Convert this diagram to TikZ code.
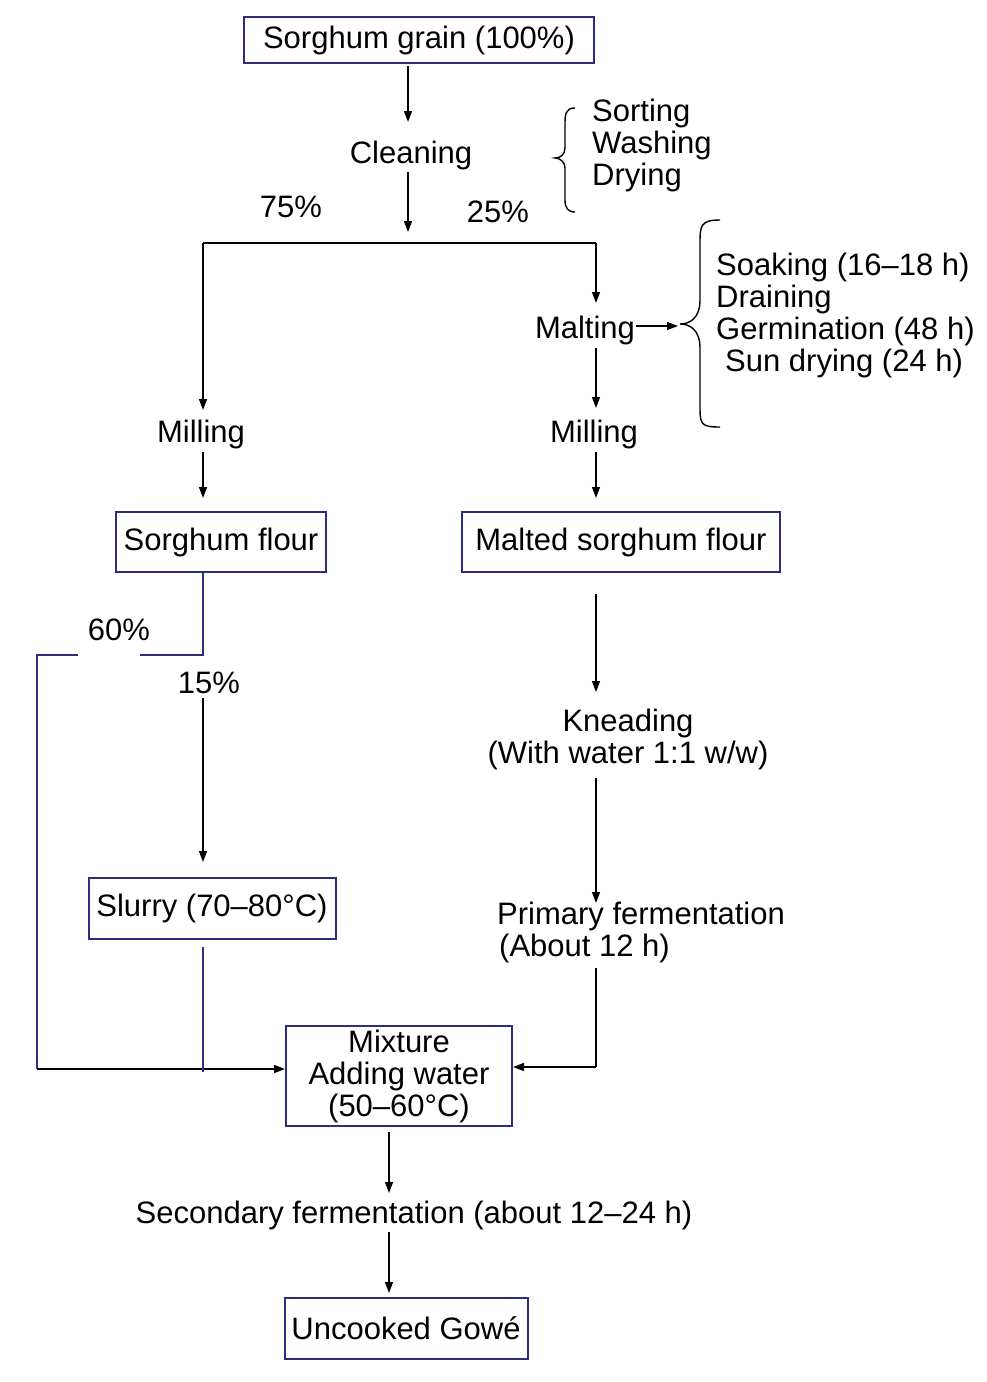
\documentclass[tikz,border=0pt]{standalone}
\usepackage{fontspec}
\setmainfont{Liberation Sans}
\usetikzlibrary{arrows.meta,decorations.pathreplacing}
\definecolor{navy}{HTML}{2E2E80}
\begin{document}
\begin{tikzpicture}[x=1pt,y=-1pt,
  every node/.style={font=\fontsize{31}{32}\selectfont,inner sep=0pt,align=center},
  box/.style={draw=navy,line width=2pt,minimum height=44pt},
  arr/.style={line width=1.4pt,-{Triangle[length=11pt,width=8pt]}},
  ln/.style={line width=1.4pt},
  nl/.style={draw=navy,line width=1.4pt}]
\useasboundingbox (0,0) rectangle (987,1382);
\node[box,minimum width=350pt,minimum height=46pt] (grain) at (419,40) {Sorghum grain (100\%)};
\node (clean) at (411,155) {Cleaning};
\node[align=left,anchor=west] (sort) at (592,145) {Sorting\\Washing\\Drying};
\draw[ln] (575,108) .. controls (565,108) and (565,115) .. (565,125) -- (565,148) .. controls (565,155) and (560,158) .. (555,158) .. controls (560,158) and (565,162) .. (565,168) -- (565,200) .. controls (565,208) and (568,212) .. (575,212);
\node (p75) at (291,207) {75\%};
\node (p25) at (498,212) {25\%};
\coordinate (sl) at (203,243);
\coordinate (sr) at (596,243);
\node (malt) at (585,330) {Malting};
\node[align=left,anchor=west] (steps) at (716,315) {Soaking (16–18 h)\\Draining\\Germination (48 h)\\\hspace{9pt}Sun drying (24 h)};
\draw[ln] (720,220) .. controls (700,220) and (700,226) .. (700,245) -- (700,300) .. controls (700,318) and (690,324) .. (680,324) .. controls (690,324) and (700,330) .. (700,348) -- (700,405) .. controls (700,424) and (700,427) .. (720,427);
\node (milL) at (201,434) {Milling};
\node (milR) at (594,434) {Milling};
\node[box,minimum width=210pt,minimum height=60pt] (sf) at (221,542) {Sorghum flour};
\node[box,minimum width=318pt,minimum height=60pt] (msf) at (621,542) {Malted sorghum flour};
\node (p60) at (119,630) {60\%};
\node (p15) at (209,683) {15\%};
\node[box,minimum width=247pt,minimum height=61pt] (slurry) at (212,908) {Slurry (70–80°C)};
\node (knead) at (628,739) {Kneading\\(With water 1:1 w/w)};
\node[align=left,anchor=west] (prim) at (497,932) {Primary fermentation\\\hspace{2pt}(About 12 h)};
\node[box,minimum width=226pt,minimum height=100pt] (mix) at (399,1076) {Mixture\\Adding water\\(50–60°C)};
\node (sec) at (414,1215) {Secondary fermentation (about 12–24 h)};
\node[box,minimum width=243pt,minimum height=61pt] (gowe) at (406,1328) {Uncooked Gowé};
\draw[arr] (408,66) -- (408,122);
\draw[arr] (408,172) -- (408,232);
\draw[ln] (sl) -- (sr);
\draw[arr] (sl) -- (203,410);
\draw[arr] (sr) -- (596,303);
\draw[arr] (636,326) -- (678,326);
\draw[arr] (596,348) -- (596,408);
\draw[arr] (203,452) -- (203,498);
\draw[arr] (596,452) -- (596,498);
\coordinate (c60) at (203,655);
\coordinate (c37) at (37,655);
\draw[nl] (203,572) -- (c60) -- (140,655);
\draw[nl] (78,655) -- (c37) -- (37,1069);
\draw[arr] (37,1069) -- (mix.west |- 0,1069);
\draw[arr] (203,698) -- (203,862);
\draw[nl] (203,947) -- (203,1072);
\draw[arr] (596,594) -- (596,692);
\draw[arr] (596,778) -- (596,903);
\draw[ln] (596,968) -- (596,1067);
\draw[arr] (596,1067) -- (mix.east |- 0,1067);
\draw[arr] (389,1132) -- (389,1193);
\draw[arr] (389,1232) -- (389,1293);
\end{tikzpicture}
\end{document}
